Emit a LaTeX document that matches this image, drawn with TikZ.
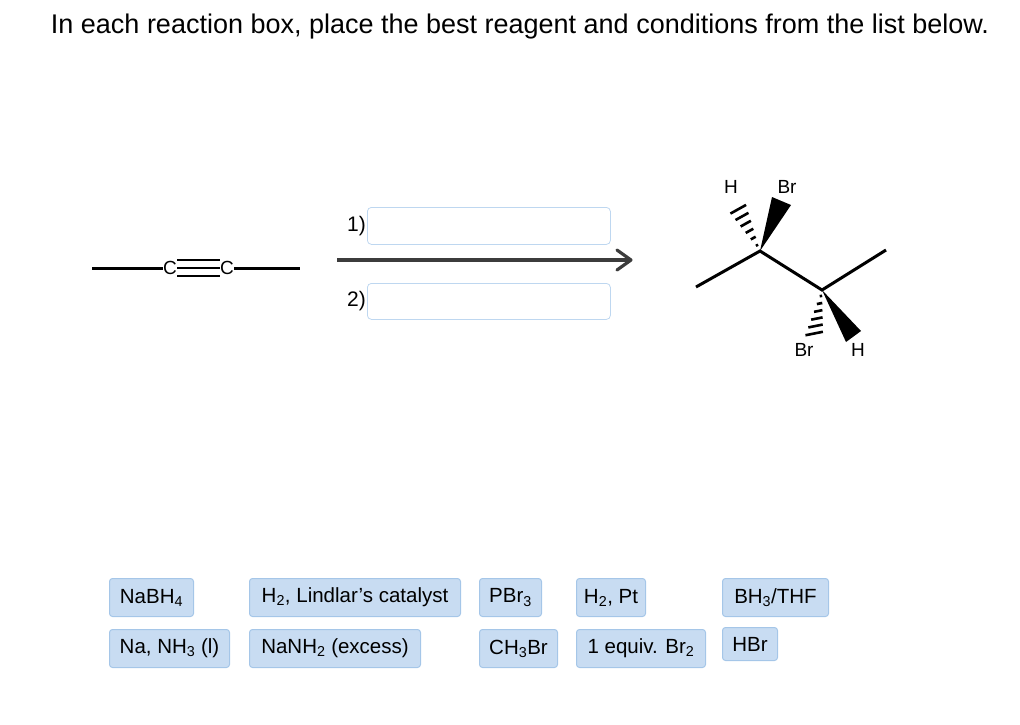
\documentclass[tikz,border=0pt]{standalone}
\usepackage{fontspec}
\setmainfont{Liberation Sans}
\usetikzlibrary{calc}
\definecolor{arr}{RGB}{60,60,60}
\definecolor{chipd}{RGB}{165,198,232}
\definecolor{chipf}{RGB}{200,220,242}
\definecolor{boxd}{RGB}{190,215,240}
\begin{document}
\begin{tikzpicture}[x=1pt,y=-1pt,
 chip/.style={draw=chipd,fill=chipf,rounded corners=3pt,line width=1pt,inner sep=0pt,anchor=north west,font=\fontsize{20.5}{22}\selectfont},
 box/.style={draw=boxd,rounded corners=4pt,line width=0.8pt,inner sep=0pt,anchor=north west},
 lab/.style={font=\fontsize{21}{22}\selectfont},
 bond/.style={line width=3pt}]
\useasboundingbox (0,0) rectangle (1020,724);
\node[font=\fontsize{27}{30}\selectfont] (title) at (520,27) {In each reaction box, place the best reagent and conditions from the list below.};
% alkyne
\node[font=\fontsize{19}{20}\selectfont,inner sep=0pt] (c1) at (170,268) {C};
\node[font=\fontsize{19}{20}\selectfont,inner sep=0pt] (c2) at (227,268) {C};
\coordinate (l1) at (92,268); \coordinate (r1) at (300,268);
\draw[bond] (l1) -- (c1.west);
\draw[bond] (c2.east) -- (r1);
\foreach \dy in {-8,0,8} \draw[line width=1.5pt] ([yshift=\dy pt]c1.east) -- ([yshift=\dy pt]c2.west);
% arrow
\coordinate (a0) at (337,260); \coordinate (a1) at (631,260);
\draw[line width=3.2pt,arr] (a0) -- (a1);
\draw[line width=3.2pt,arr,line cap=round,line join=round] (617,250) -- (a1) -- (617,270);
\node[box,minimum width=243pt,minimum height=37pt] (b1) at (367,207) {};
\node[box,minimum width=243pt,minimum height=36pt] (b2) at (367,283) {};
\node[lab,anchor=east,inner sep=1pt] (n1) at (b1.west) {1)};
\node[lab,anchor=east,inner sep=1pt] (n2) at (b2.west) {2)};
% product
\coordinate (C1) at (760,251); \coordinate (C2) at (822,290);
\coordinate (m1) at (696,287); \coordinate (m2) at (886,250);
\draw[bond] (m1) -- (C1) -- (C2) -- (m2);
\fill (C1) -- (772,197) -- (791,205) -- cycle;
\fill (C2) -- (846,342) -- (861,331) -- cycle;
\foreach \t in {0.12,0.27,0.42,0.57,0.72,0.87}{
 \draw[line width=2.6pt] ($(C1)!\t!(735,203)+(-\t*9,\t*5)$) -- ($(C1)!\t!(735,203)+(\t*9,-\t*5)$);
 \draw[line width=2.6pt] ($(C2)!\t!(813,340)+(-\t*10,\t*2)$) -- ($(C2)!\t!(813,340)+(\t*10,-\t*2)$);
}
\node[font=\fontsize{19}{20}\selectfont] (h1) at (731,187) {H};
\node[font=\fontsize{19}{20}\selectfont] (br1) at (787,187) {Br};
\node[font=\fontsize{19}{20}\selectfont] (br2) at (804,350) {Br};
\node[font=\fontsize{19}{20}\selectfont] (h2) at (858,350) {H};
% chips
\node[chip,minimum width=84pt,minimum height=38pt] (k1) at (109,578) {NaBH\textsubscript{4}};
\node[chip,minimum width=211pt,minimum height=38pt] (k2) at (249,578) {H\textsubscript{2}, Lindlar\char"0027 s catalyst};
\node[chip,minimum width=62pt,minimum height=38pt] (k3) at (479,578) {PBr\textsubscript{3}};
\node[chip,minimum width=69pt,minimum height=38pt] (k4) at (576,578) {H\textsubscript{2}, Pt};
\node[chip,minimum width=106pt,minimum height=38pt] (k5) at (722,578) {BH\textsubscript{3}/THF};
\node[chip,minimum width=120pt,minimum height=38pt] (k6) at (109,629) {Na, NH\textsubscript{3} (l)};
\node[chip,minimum width=171pt,minimum height=38pt] (k7) at (249,629) {NaNH\textsubscript{2} (excess)};
\node[chip,minimum width=78pt,minimum height=38pt] (k8) at (479,629) {CH\textsubscript{3}Br};
\node[chip,minimum width=129pt,minimum height=38pt] (k9) at (576,629) {1 equiv. Br\textsubscript{2}};
\node[chip,minimum width=55pt,minimum height=33pt] (k10) at (722,627) {HBr};
\end{tikzpicture}
\end{document}
